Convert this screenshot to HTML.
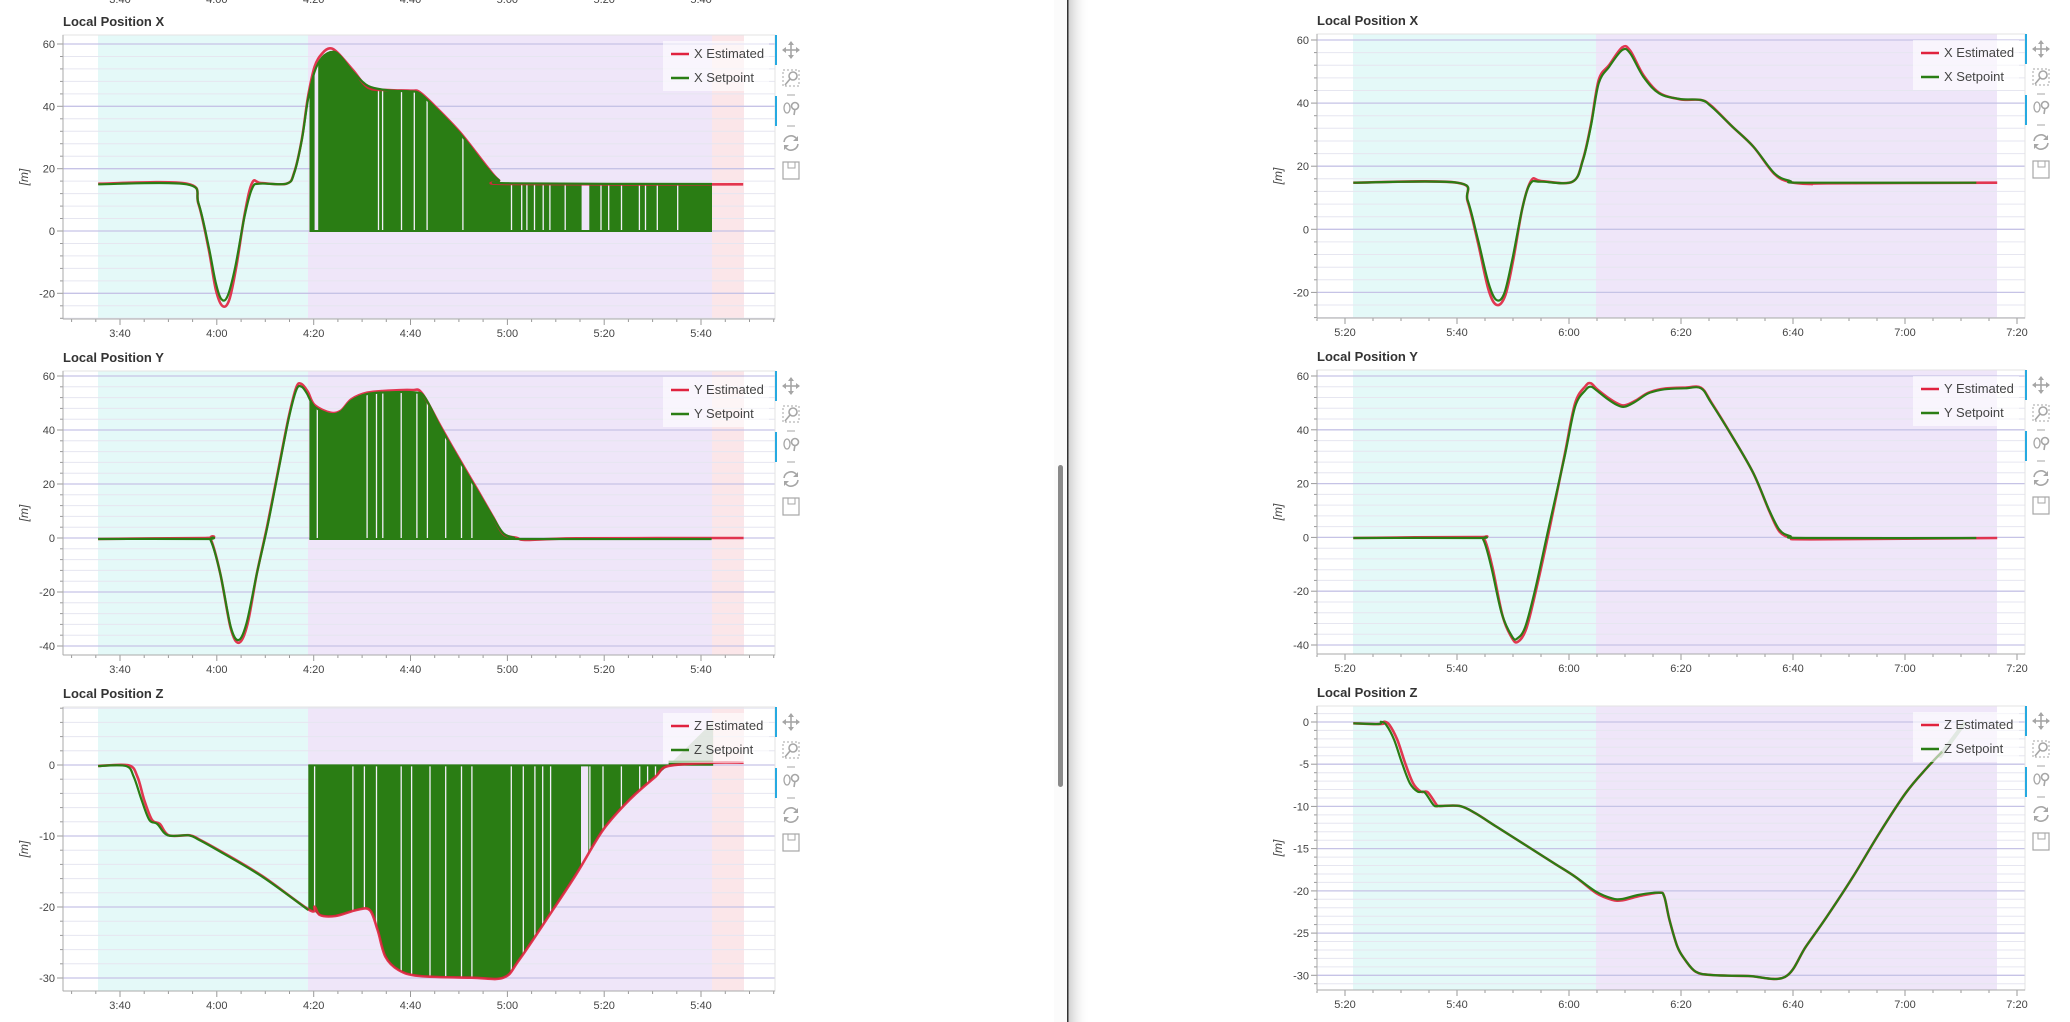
<!DOCTYPE html>
<html><head><meta charset="utf-8">
<style>
html,body{margin:0;padding:0;background:#fff;}
svg{display:block;font-family:"Liberation Sans",sans-serif;}
</style></head>
<body>
<svg id="s" width="2070" height="1022" viewBox="0 0 2070 1022" xmlns="http://www.w3.org/2000/svg"></svg>
<script>
const S=document.getElementById('s');
let out='';
function crSeg(pts){
  let d='';
  for(let i=0;i<pts.length-1;i++){
    const p0=pts[Math.max(0,i-1)],p1=pts[i],p2=pts[i+1],p3=pts[Math.min(pts.length-1,i+2)];
    const c1=[p1[0]+(p2[0]-p0[0])/6,p1[1]+(p2[1]-p0[1])/6];
    const c2=[p2[0]-(p3[0]-p1[0])/6,p2[1]-(p3[1]-p1[1])/6];
    d+='C'+c1[0].toFixed(1)+','+c1[1].toFixed(1)+' '+c2[0].toFixed(1)+','+c2[1].toFixed(1)+' '+p2[0].toFixed(1)+','+p2[1].toFixed(1);
  }
  return d;
}
function cr(pts){return 'M'+pts[0][0].toFixed(1)+','+pts[0][1].toFixed(1)+crSeg(pts);}
function fmt(t){const m=Math.floor(t/60),s=t%60;return m+':'+(s<10?'0':'')+s;}
let clipId=0;
function panel(c){
  const L=c.L,R=c.R,T=c.T,B=c.B;
  const X=zx=>c.offX+zx/c.fx, Y=zy=>c.offY+zy/3;
  const vy=v=>c.y0+(v-c.v0)*(c.y1-c.y0)/(c.v1-c.v0);
  const tx=t=>c.tx0+(t-c.t0)*c.ps;
  out+=`<rect x="${L}" y="${T}" width="${R-L}" height="${B-T}" fill="#fff"/>`;
  c.bands.forEach(b=>{out+=`<rect x="${b[0]}" y="${T}" width="${b[1]-b[0]}" height="${B-T}" fill="${b[2]}"/>`;});
  for(let v=c.gmin;v<=c.gmax+1e-6;v+=c.minor){
    const y=vy(v); if(y<T||y>B)continue;
    const maj=Math.abs(v/c.major-Math.round(v/c.major))<1e-6;
    out+=`<line x1="${L}" x2="${R}" y1="${y.toFixed(1)}" y2="${y.toFixed(1)}" stroke="${maj?'#c6c3e6':'#e6e6f0'}" stroke-width="${maj?1.3:1}"/>`;
    out+=`<line x1="${L-(maj?6:3)}" x2="${L}" y1="${y.toFixed(1)}" y2="${y.toFixed(1)}" stroke="#999"/>`;
    if(maj) out+=`<text x="${L-8}" y="${(y+4).toFixed(1)}" font-size="11" fill="#444" text-anchor="end">${Math.round(v)}</text>`;
  }
  for(let t=c.tmin;t<=c.tmax;t+=5){
    const x=tx(t); if(x<L||x>R)continue;
    const maj=t%20==0;
    out+=`<line x1="${x.toFixed(1)}" x2="${x.toFixed(1)}" y1="${B}" y2="${B+(maj?6:3)}" stroke="#999"/>`;
    if(maj) out+=`<text x="${x.toFixed(1)}" y="${B+18}" font-size="11" fill="#444" text-anchor="middle">${fmt(t)}</text>`;
  }
  out+=`<rect x="${L}" y="${T}" width="${R-L}" height="${B-T}" fill="none" stroke="#e3e3e3"/>`;
  out+=`<line x1="${L}" x2="${L}" y1="${T}" y2="${B}" stroke="#aaa"/><line x1="${L}" x2="${R}" y1="${B}" y2="${B}" stroke="#aaa"/>`;
  const gp=c.green.map(p=>[X(p[0]),Y(p[1])]);
  const rp=c.red.map(p=>[X(p[0]),Y(p[1])]);
  if(c.fill){
    const f=c.fill; const fp=f.pts.map(p=>[X(p[0]),Y(p[1])]);
    const base=Y(f.base);
    const id='c'+(clipId++);
    const d=`M${fp[0][0].toFixed(1)},${base.toFixed(1)}L${fp[0][0].toFixed(1)},${fp[0][1].toFixed(1)}`+crSeg(fp)+`L${fp[fp.length-1][0].toFixed(1)},${base.toFixed(1)}Z`;
    out+=`<clipPath id="${id}"><path d="${d}"/></clipPath>`;
    out+=`<path d="${d}" fill="#2a7d14"/>`;
    out+=`<g clip-path="url(#${id})">`;
    f.gaps.forEach(g=>{const x=X(g);out+=`<line x1="${x.toFixed(1)}" x2="${x.toFixed(1)}" y1="${T}" y2="${B}" stroke="#f4f0fa" stroke-width="1.3"/>`;});
    (f.wide||[]).forEach(g=>{out+=`<rect x="${X(g[0]).toFixed(1)}" y="${T}" width="${((g[1]-g[0])/c.fx).toFixed(1)}" height="${B-T}" fill="#efe6f9"/>`;});
    out+=`</g>`;
    out+=`<line x1="${fp[0][0].toFixed(1)}" x2="${fp[fp.length-1][0].toFixed(1)}" y1="${base}" y2="${base}" stroke="#2a7d14" stroke-width="2"/>`;
    if(f.extra) out+=f.extra(X,Y);
  }
  out+=`<path d="${cr(rp)}" fill="none" stroke="#e0223e" stroke-width="2.6" stroke-opacity="0.9"/>`;
  out+=`<path d="${cr(gp)}" fill="none" stroke="#2a7d14" stroke-width="2.2"/>`;
  out+=`<rect x="${R-112}" y="${T+6}" width="106" height="50" fill="#fff" fill-opacity="0.6"/>`;
  out+=`<line x1="${R-104}" x2="${R-86}" y1="${T+19}" y2="${T+19}" stroke="#e0223e" stroke-width="2.5"/>`;
  out+=`<line x1="${R-104}" x2="${R-86}" y1="${T+43}" y2="${T+43}" stroke="#2a7d14" stroke-width="2.5"/>`;
  out+=`<text x="${R-81}" y="${T+23}" font-size="13" fill="#444">${c.ax} Estimated</text>`;
  out+=`<text x="${R-81}" y="${T+47}" font-size="13" fill="#444">${c.ax} Setpoint</text>`;
  out+=`<text x="${L}" y="${T-9}" font-size="13" font-weight="bold" fill="#333">Local Position ${c.ax}</text>`;
  out+=`<text transform="translate(${L-35},${(T+B)/2}) rotate(-90)" font-size="12" font-style="italic" fill="#444" text-anchor="middle">[m]</text>`;
  out+=`<rect x="${R}" y="${T}" width="2" height="30" fill="#26aae1"/><rect x="${R}" y="${T+61}" width="2" height="30" fill="#26aae1"/>`;
  const ix=R+16, g='#a6a6a6';
  let y=T+15;
  out+=`<g stroke="${g}" fill="${g}" stroke-width="1.6">`;
  out+=`<line x1="${ix-8}" x2="${ix+8}" y1="${y}" y2="${y}"/><line x1="${ix}" x2="${ix}" y1="${y-8}" y2="${y+8}"/>`;
  out+=`<path d="M${ix-9},${y}l4,-3v6zM${ix+9},${y}l-4,-3v6zM${ix},${y-9}l-3,4h6zM${ix},${y+9}l-3,-4h6z" stroke="none"/>`;
  y=T+43;
  out+=`<rect x="${ix-8}" y="${y-8}" width="16" height="16" fill="none" stroke-dasharray="2,2" stroke-width="1"/>`;
  out+=`<circle cx="${ix+2}" cy="${y-2}" r="4" fill="none"/><line x1="${ix-1}" y1="${y+1}" x2="${ix-6}" y2="${y+7}"/>`;
  out+=`<line x1="${ix-4}" x2="${ix+4}" y1="${T+60}" y2="${T+60}" stroke-width="1"/>`;
  y=T+73;
  out+=`<ellipse cx="${ix-4}" cy="${y}" rx="3" ry="5" fill="none" stroke-width="1.3"/><circle cx="${ix+4}" cy="${y-2}" r="3.5" fill="none"/><line x1="${ix+4}" x2="${ix+3}" y1="${y+1}" y2="${y+7}"/>`;
  out+=`<line x1="${ix-4}" x2="${ix+4}" y1="${T+91}" y2="${T+91}" stroke-width="1"/>`;
  y=T+108;
  out+=`<path d="M${ix-7},${y-1}a7,7 0 0 1 12,-4M${ix+7},${y+1}a7,7 0 0 1 -12,4" fill="none"/>`;
  out+=`<path d="M${ix+7},${y-7}v5h-5zM${ix-7},${y+7}v-5h5z" stroke="none"/>`;
  y=T+135;
  out+=`<rect x="${ix-8}" y="${y-8}" width="16" height="17" fill="none" stroke-width="1.2"/><rect x="${ix-3}" y="${y-8}" width="7" height="6" fill="none" stroke-width="1"/>`;
  out+=`</g>`;
}
const Lx={L:63,R:775,tx0:120,t0:220,ps:4.842,tmin:210,tmax:355,
  bands:[[98,308,'#e4f9f8'],[308,712,'#efe6f9'],[712,744,'#fbe6e9']]};
const Rx={L:1317,R:2025,tx0:1345,t0:320,ps:5.6,tmin:315,tmax:440,
  bands:[[1353,1596,'#e4f9f8'],[1596,1997,'#efe6f9']]};
const lxG=[[192,553],[365,553],[388,610],[408,740],[422,850],[433,898],[445,888],[460,800],[478,650],[493,565],[508,551],[560,551],[575,520],[590,420],[602,300],[615,215],[630,172],[650,155],[665,168],[690,215],[720,258],[760,271],[800,274],[820,280],[850,322],[900,402],[950,500],[975,540],[1000,550],[1392,552]];
const lxR=[[192,551],[365,551],[388,612],[408,748],[422,870],[435,918],[448,900],[462,800],[478,645],[493,548],[510,549],[560,551],[575,518],[590,418],[602,292],[615,200],[630,160],[645,145],[660,158],[690,210],[720,263],[760,270],[805,272],[820,276],[850,318],[900,398],[950,496],[975,540],[1000,552],[1453,553]];
panel(Object.assign({},Lx,{T:35,B:319,offX:0,offY:0,fx:1.955,ax:'X',y0:231,v0:0,y1:44,v1:60,gmin:-28,gmax:62,minor:4,major:20,
 green:lxG,red:lxR,
 fill:{base:693,pts:[[605,280],[615,215],[630,172],[650,155],[665,168],[690,215],[720,258],[760,271],[800,274],[820,280],[850,322],[900,402],[950,500],[975,540],[1000,550],[1200,552],[1392,552]],
  gaps:[620,740,748,785,810,835,905,1000,1020,1030,1045,1062,1075,1105,1175,1190,1215,1250,1262,1285,1325],wide:[[1137,1152],[615,622]]}}));
panel(Object.assign({},Lx,{T:371,B:655,offX:0,offY:340,fx:1.907,ax:'Y',y0:376,v0:60,y1:646,v1:-40,gmin:-44,gmax:64,minor:4,major:20,
 green:[[187,597],[390,597],[402,602],[420,700],[440,860],[455,900],[470,850],[490,700],[510,560],[530,400],[550,240],[565,150],[575,140],[585,160],[600,200],[630,222],[650,215],[670,182],[700,162],[740,157],[790,157],[810,172],[840,262],[880,372],[910,452],[940,532],[960,580],[980,593],[1000,597],[1357,597]],
 red:[[187,597],[390,594],[402,598],[420,700],[440,865],[456,908],[472,852],[490,700],[510,555],[530,395],[550,235],[565,142],[575,132],[587,155],[600,195],[630,218],[650,212],[670,178],[700,158],[740,152],[785,150],[805,160],[840,258],[880,368],[910,448],[940,530],[960,582],[985,593],[1005,600],[1100,595],[1418,594]],
 fill:{base:597,pts:[[590,180],[600,200],[630,222],[650,215],[670,182],[700,162],[740,157],[790,157],[810,172],[840,262],[880,372],[910,452],[940,532],[960,580],[980,593],[985,595]],
  gaps:[605,700,718,730,765,795,815,850,880,900]}}));
panel(Object.assign({},Lx,{T:707,B:991,offX:0,offY:680,fx:1.907,ax:'Z',y0:765,v0:0,y1:978,v1:-30,gmin:-32,gmax:8,minor:2,major:10,
 green:[[187,258],[240,258],[255,290],[270,360],[285,420],[300,432],[320,466],[360,466],[380,480],[420,515],[500,590],[588,690]],
 red:[[187,258],[245,256],[262,290],[275,360],[290,420],[305,432],[322,466],[362,466],[382,480],[420,513],[500,588],[590,690],[600,680],[610,705],[640,708],[680,690],[705,690],[720,750],[735,830],[760,870],[800,888],[900,893],[960,893],[990,840],[1050,700],[1100,580],[1150,450],[1200,360],[1250,290],[1275,258],[1360,248],[1418,248]],
 fill:{base:256,pts:[[588,690],[600,695],[610,705],[640,708],[680,690],[705,690],[720,750],[735,830],[760,870],[800,888],[900,893],[960,893],[990,840],[1050,700],[1100,580],[1150,450],[1200,360],[1250,290],[1275,256]],
  gaps:[600,673,695,718,765,785,820,850,880,900,975,998,1020,1035,1050,1125,1150,1185,1220,1235,1250],wide:[[1108,1122]],
  extra:(X,Y)=>`<path d="M${X(1275)},${Y(256)}L${X(1360)},${Y(125)}L${X(1360)},${Y(258)}Z" fill="#8fae8a" fill-opacity="0.6"/><rect x="${X(1275)}" y="${Y(242)}" width="${85/1.907}" height="5" fill="#2a7d14"/>`}}));
panel(Object.assign({},Rx,{T:34,B:318,offX:1250,offY:0,fx:1.907,ax:'X',y0:229.3,v0:0,y1:40,v1:60,gmin:-28,gmax:62,minor:4,major:20,
 green:[[197,548],[395,548],[415,600],[435,720],[455,850],[470,900],[485,880],[500,780],[520,620],[535,550],[555,545],[615,545],[635,480],[650,380],[665,250],[685,200],[710,150],[725,160],[750,230],[780,280],[820,297],[860,300],[880,320],[920,380],[960,440],[1000,520],[1030,543],[1060,548],[1385,548]],
 red:[[197,548],[395,548],[415,604],[435,730],[455,870],[471,915],[487,885],[502,780],[520,620],[537,540],[555,543],[615,545],[635,478],[650,375],[665,240],[685,195],[710,142],[725,152],[750,225],[780,278],[820,298],[860,300],[880,318],[920,380],[960,440],[1000,522],[1030,546],[1070,552],[1100,550],[1425,548]]}));
panel(Object.assign({},Rx,{T:370,B:654,offX:1250,offY:340,fx:1.907,ax:'Y',y0:376,v0:60,y1:645,v1:-40,gmin:-44,gmax:64,minor:4,major:20,
 green:[[197,594],[430,594],[445,600],[460,680],[480,820],[500,890],[510,895],[525,860],[545,740],[570,560],[600,350],[620,200],[640,150],[650,140],[660,150],[680,175],[700,195],[715,200],[735,185],[760,160],[790,148],[830,145],[860,145],[880,190],[920,290],[960,400],[990,510],[1010,570],[1030,588],[1060,594],[1385,594]],
 red:[[197,594],[430,591],[447,598],[462,680],[482,830],[500,895],[511,905],[527,865],[547,740],[572,560],[600,345],[620,190],[640,138],[650,130],[662,148],[680,170],[700,190],[715,196],[735,182],[760,158],[790,146],[830,143],[860,143],[880,188],[920,290],[960,400],[990,512],[1010,575],[1035,594],[1070,598],[1425,594]]}));
const rzG=[[197,130],[245,132],[250,125],[260,135],[275,180],[290,250],[305,310],[320,335],[333,337],[350,375],[360,378],[400,378],[430,400],[470,440],[520,490],[580,550],[620,590],[660,635],[690,655],[710,657],[740,645],[780,638],[790,650],[800,720],[815,800],[830,840],[850,875],[880,885],[950,888],[1020,891],[1060,800],[1100,710],[1150,590],[1200,460],[1250,340],[1290,265],[1320,215]];
panel(Object.assign({},Rx,{T:706,B:990,offX:1250,offY:680,fx:1.907,ax:'Z',y0:722,v0:0,y1:975.3,v1:-30,gmin:-31,gmax:2,minor:1,major:5,
 green:rzG,
 red:rzG.map(p=>p[0]<360&&p[0]>200?[p[0]+6,p[1]]:[p[0],p[1]+(p[0]>640&&p[0]<760?4:0)]),
 fill:{base:215,pts:[[1320,215],[1320,214]],gaps:[],extra:(X,Y)=>`<path d="M${X(1310)},${Y(230)}L${X(1360)},${Y(125)}L${X(1368)},${Y(128)}L${X(1318)},${Y(235)}Z" fill="#9cb89a" fill-opacity="0.7"/>`}}));
['3:40','4:00','4:20','4:40','5:00','5:20','5:40'].forEach((s,i)=>{out+=`<text x="${120+i*96.84}" y="3" font-size="11" fill="#444" text-anchor="middle">${s}</text>`;});
out+=`<rect x="1054" y="0" width="13" height="1022" fill="#fbfbfb"/>`;
out+=`<rect x="1058" y="465" width="5" height="322" rx="2.5" fill="#8a8a8a"/>`;
out+=`<defs><linearGradient id="sh" x1="0" x2="1"><stop offset="0" stop-color="#cfcfcf"/><stop offset="1" stop-color="#fff" stop-opacity="0"/></linearGradient></defs>`;
out+=`<rect x="1068" y="0" width="22" height="1022" fill="url(#sh)"/>`;
out+=`<rect x="1067" y="0" width="1.5" height="1022" fill="#333"/>`;
S.innerHTML=out;
</script>
</body></html>
